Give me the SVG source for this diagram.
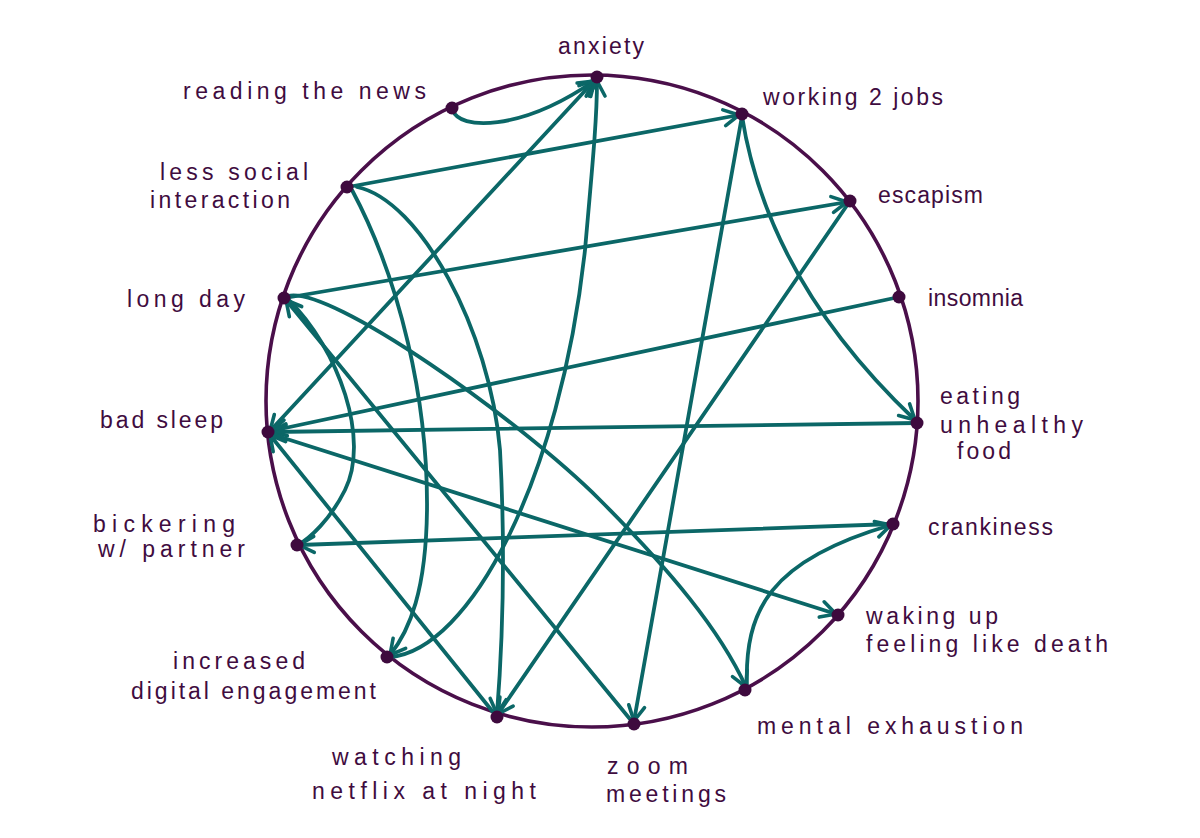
<svg xmlns="http://www.w3.org/2000/svg" width="1200" height="838" viewBox="0 0 1200 838">
<defs>
<style>
.ring{fill:none;stroke:#4a0f4a;stroke-width:3.6}
.e{fill:none;stroke:#0b6767;stroke-width:3.8;stroke-linecap:round;stroke-linejoin:round;marker-end:url(#ah)}
.n{fill:none;stroke:#0b6767;stroke-width:3.8;stroke-linecap:round}
.b{marker-start:url(#ahs)}
.dot{fill:#3e0a3e}
.lbl{font-family:"Liberation Sans","DejaVu Sans",sans-serif;font-size:23px;fill:#3f0c40;letter-spacing:2px}
</style>
<marker id="ah" viewBox="-20 -12 24 24" markerWidth="24" markerHeight="24" refX="0" refY="0" orient="auto" markerUnits="userSpaceOnUse">
<path d="M-15,-8 L0,0 L-15,8" fill="none" stroke="#0b6767" stroke-width="3.6" stroke-linecap="round" stroke-linejoin="round"/>
</marker>
<marker id="ahs" viewBox="-20 -12 24 24" markerWidth="24" markerHeight="24" refX="0" refY="0" orient="auto-start-reverse" markerUnits="userSpaceOnUse">
<path d="M-15,-8 L0,0 L-15,8" fill="none" stroke="#0b6767" stroke-width="3.6" stroke-linecap="round" stroke-linejoin="round"/>
</marker>
</defs>
<rect width="1200" height="838" fill="#ffffff"/>
<circle class="ring" cx="592" cy="401" r="326"/>
<g id="connectors">
<path class="e" d="M453,110 C458,130 520,132 594,81"/>
<path class="e b" d="M270,431 L595,80"/>
<path class="e" d="M390,657 C470,650 560,480 585,250 C592,170 597,120 597,81"/>
<path class="e" d="M348,187 L739,115"/>
<path class="e" d="M352,190 C400,280 428,400 427,510 C426,590 410,630 390,655"/>
<path class="e" d="M357,187 C420,200 490,330 500,450 C506,560 502,650 497,714"/>
<path class="e" d="M285,298 L847,202"/>
<path class="e" d="M288,296 C330,285 520,420 600,500 C670,570 720,630 746,687"/>
<path class="e" d="M634,724 L286,300"/>
<path class="n" d="M287,298 C340,350 370,440 345,490 C330,520 310,538 298,545"/>
<path class="e" d="M899,297 L271,431"/>
<path class="e" d="M917,423 L271,432"/>
<path class="e" d="M268,433 L836,614"/>
<path class="e" d="M497,717 L270,435"/>
<path class="e" d="M893,524 L299,545"/>
<path class="e" d="M747,688 C744,610 770,560 891,525"/>
<path class="e" d="M742,116 C760,230 820,330 915,420"/>
<path class="e" d="M742,116 L634,721"/>
<path class="e" d="M850,201 L498,714"/>
</g>
<g id="anxiety"><circle class="dot" cx="597" cy="77" r="6.5"/><text class="lbl" x="558" y="54" textLength="88" lengthAdjust="spacing">anxiety</text></g>
<g id="reading-the-news"><circle class="dot" cx="452" cy="108" r="6.5"/><text class="lbl" x="183" y="99" textLength="245" lengthAdjust="spacing">reading the news</text></g>
<g id="working-2-jobs"><circle class="dot" cx="742" cy="114" r="6.5"/><text class="lbl" x="763" y="105" textLength="182" lengthAdjust="spacing">working 2 jobs</text></g>
<g id="less-social-interaction"><circle class="dot" cx="347" cy="187" r="6.5"/><text class="lbl" x="160" y="180" textLength="150" lengthAdjust="spacing">less social</text><text class="lbl" x="150" y="208" textLength="142" lengthAdjust="spacing">interaction</text></g>
<g id="escapism"><circle class="dot" cx="850" cy="201" r="6.5"/><text class="lbl" x="878" y="203" textLength="107" lengthAdjust="spacing">escapism</text></g>
<g id="long-day"><circle class="dot" cx="284" cy="298" r="6.5"/><text class="lbl" x="127" y="307" textLength="120" lengthAdjust="spacing">long day</text></g>
<g id="insomnia"><circle class="dot" cx="899" cy="297" r="6.5"/><text class="lbl" x="928" y="306" textLength="97" lengthAdjust="spacing">insomnia</text></g>
<g id="bad-sleep"><circle class="dot" cx="268" cy="432" r="6.5"/><text class="lbl" x="100" y="428" textLength="125" lengthAdjust="spacing">bad sleep</text></g>
<g id="eating-unhealthy-food"><circle class="dot" cx="917" cy="423" r="6.5"/><text class="lbl" x="940" y="404" textLength="82" lengthAdjust="spacing">eating</text><text class="lbl" x="940" y="433" textLength="145" lengthAdjust="spacing">unhealthy</text><text class="lbl" x="957" y="459" textLength="56" lengthAdjust="spacing">food</text></g>
<g id="bickering-w-partner"><circle class="dot" cx="297" cy="545" r="6.5"/><text class="lbl" x="93" y="532" textLength="144" lengthAdjust="spacing">bickering</text><text class="lbl" x="98" y="557" textLength="149" lengthAdjust="spacing">w/ partner</text></g>
<g id="crankiness"><circle class="dot" cx="893" cy="524" r="6.5"/><text class="lbl" x="928" y="535" textLength="127" lengthAdjust="spacing">crankiness</text></g>
<g id="waking-up-feeling-like-death"><circle class="dot" cx="838" cy="615" r="6.5"/><text class="lbl" x="866" y="624" textLength="134" lengthAdjust="spacing">waking up</text><text class="lbl" x="866" y="652" textLength="244" lengthAdjust="spacing">feeling like death</text></g>
<g id="increased-digital-engagement"><circle class="dot" cx="387" cy="657" r="6.5"/><text class="lbl" x="173" y="669" textLength="134" lengthAdjust="spacing">increased</text><text class="lbl" x="131" y="699" textLength="247" lengthAdjust="spacing">digital engagement</text></g>
<g id="mental-exhaustion"><circle class="dot" cx="745" cy="690" r="6.5"/><text class="lbl" x="757" y="734" textLength="268" lengthAdjust="spacing">mental exhaustion</text></g>
<g id="watching-netflix-at-night"><circle class="dot" cx="497" cy="717" r="6.5"/><text class="lbl" x="332" y="765" textLength="131" lengthAdjust="spacing">watching</text><text class="lbl" x="312" y="799" textLength="226" lengthAdjust="spacing">netflix at night</text></g>
<g id="zoom-meetings"><circle class="dot" cx="634" cy="724" r="6.5"/><text class="lbl" x="607" y="774" textLength="83" lengthAdjust="spacing">zoom</text><text class="lbl" x="606" y="802" textLength="122" lengthAdjust="spacing">meetings</text></g>
</svg>
